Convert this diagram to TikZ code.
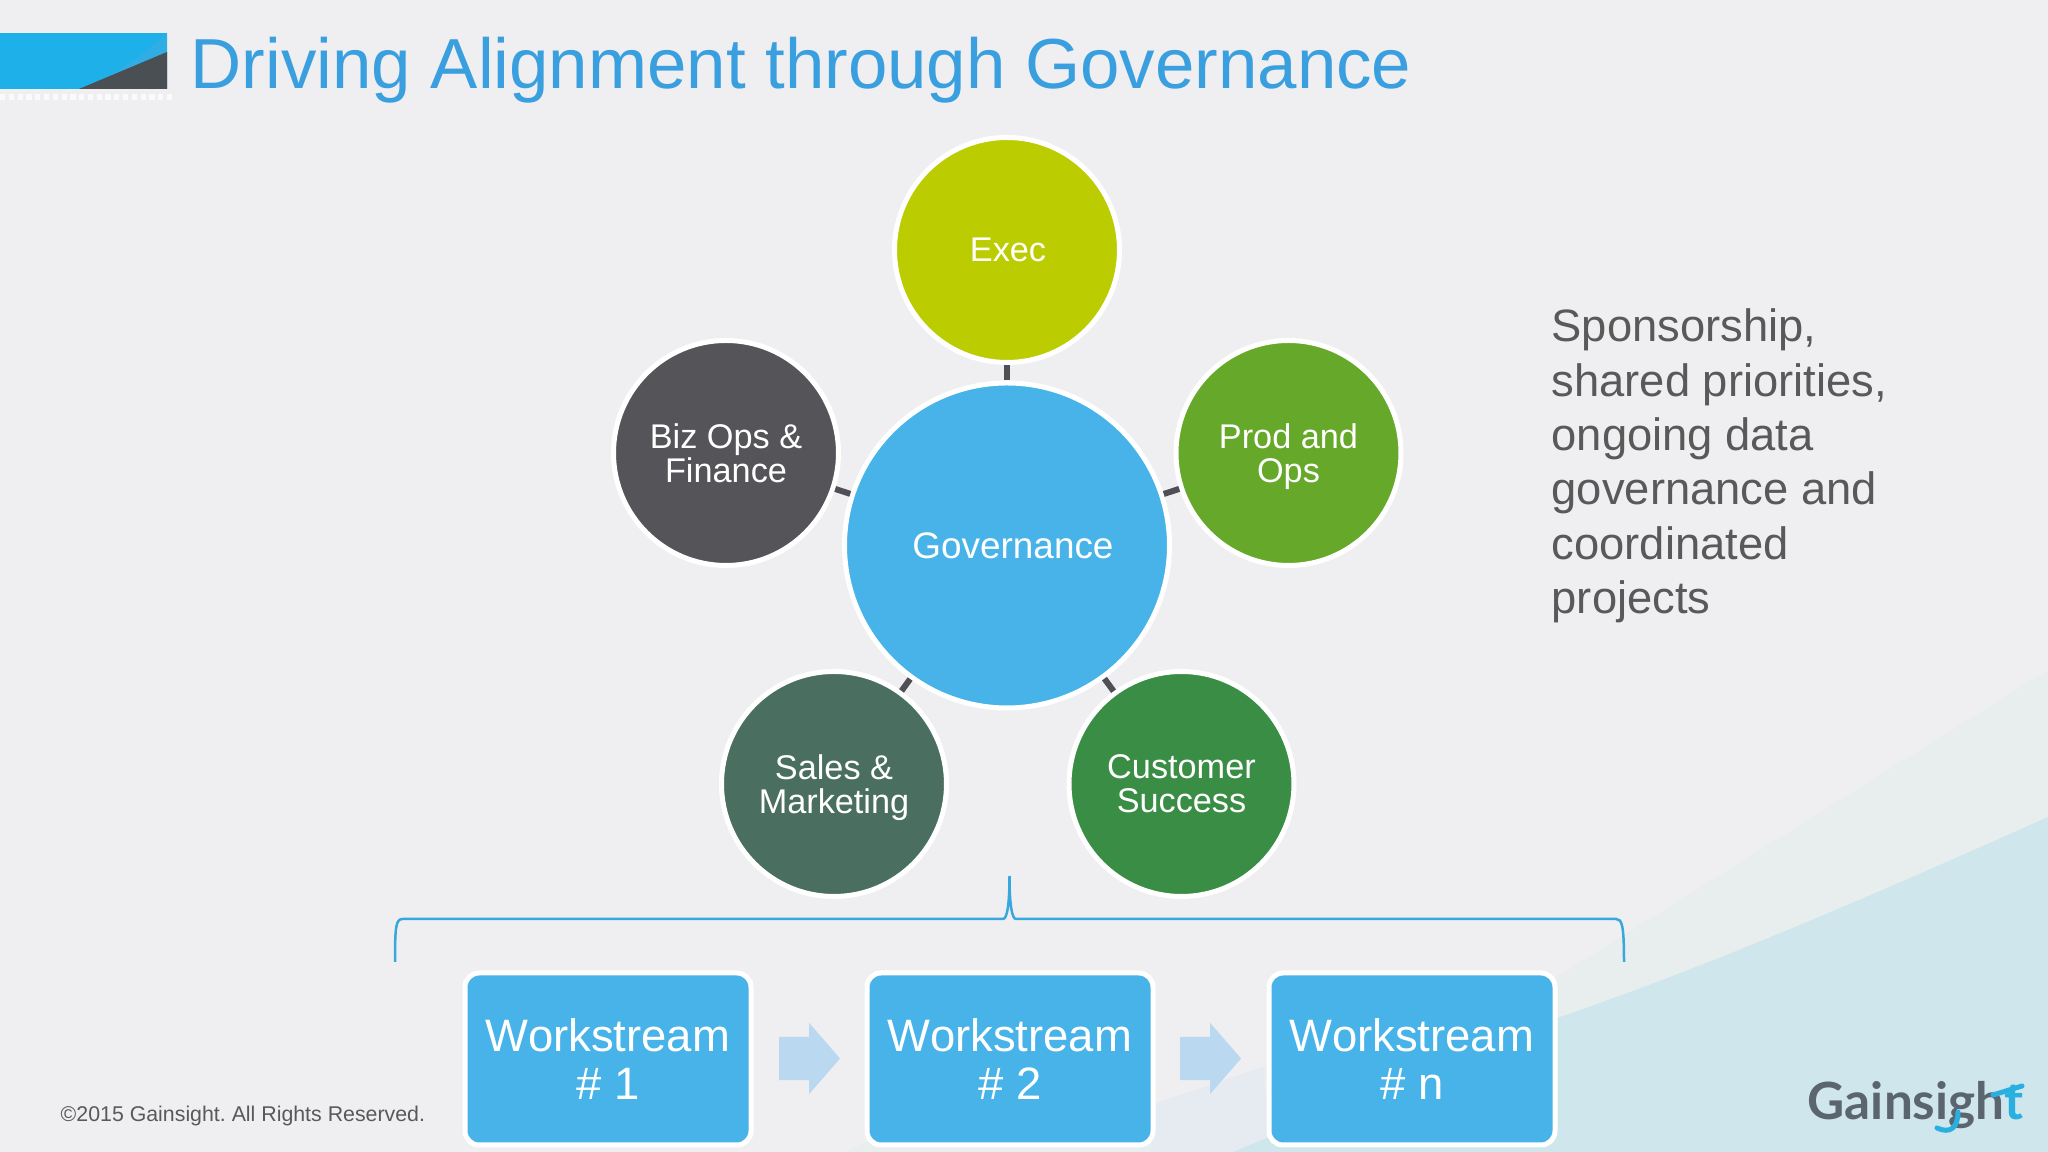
\documentclass[tikz,border=0pt]{standalone}
\usepackage{fontspec}
\setmainfont{Liberation Sans}
\newfontfamily\logofont{Lato}
\usepackage{tikz}
\usetikzlibrary{shapes.arrows}
\definecolor{pagebg}{HTML}{EFEFF1}
\definecolor{wedgegray}{HTML}{E8EEEE}
\definecolor{wedgelav}{HTML}{E6EBF1}
\definecolor{wedgeblue}{HTML}{CFE6EC}
\definecolor{govblue}{HTML}{47B3E8}
\definecolor{titleblue}{HTML}{3A9FDF}
\definecolor{bracketblue}{HTML}{38A8DC}
\definecolor{tabblue}{HTML}{1EB0E8}
\definecolor{tablight}{HTML}{30ADE5}
\definecolor{tabdark}{HTML}{4A4F54}
\definecolor{execgreen}{HTML}{BBCC00}
\definecolor{prodgreen}{HTML}{66A82A}
\definecolor{custgreen}{HTML}{3A8D45}
\definecolor{salesgreen}{HTML}{4A6E60}
\definecolor{bizgray}{HTML}{555459}
\definecolor{tickgray}{HTML}{4F5055}
\definecolor{arrowblue}{HTML}{BAD8F0}
\definecolor{bodygray}{HTML}{595959}
\definecolor{logogray}{HTML}{5A6570}
\definecolor{logocyan}{HTML}{2AB0E0}

\begin{document}
\frenchspacing
\begin{tikzpicture}[node distance=4.02cm,
  main node/.style={circle,draw=white,line width=.05cm,text=white,
    minimum size=2.25cm,inner sep=0pt,align=center,font=\fontsize{9.75}{9.7}\selectfont},
  hub node/.style={main node,minimum size=3.25cm,font=\fontsize{10.5}{12}\selectfont},
  work node/.style={rectangle,rounded corners=.14cm,draw=white,line width=.05cm,fill=govblue,
    text=white,minimum width=2.86cm,minimum height=1.72cm,inner sep=0pt,align=center,
    font=\fontsize{12.93}{13.7}\selectfont},
  flow node/.style={single arrow,fill=arrowblue,inner xsep=0pt,inner ysep=.21cm,minimum height=.61cm,
    single arrow head extend=.14cm,single arrow tip angle=98,anchor=tip},
  tick line/.style={draw=tickgray,line width=.06cm},
  bracket line/.style={draw=bracketblue,line width=.025cm}]

  \useasboundingbox (0,0) rectangle (20.48,11.52);

  % page and corner wedges
  \fill[pagebg] (0,0) rectangle (20.48,11.52);
  \fill[wedgegray] (20.48,4.82) -- (15.57,1.75) -- (12.63,.85) -- (11.57,.49)
    -- (8.63,.09) -- (8.47,0) -- (20.48,0) -- cycle;
  \fill[wedgelav] (12.63,.85) -- (11.57,.49) -- (11.5,0) -- (12.7,0) -- cycle;
  \fill[wedgeblue] (20.48,3.35) .. controls (18.8,2.6) and (17.2,1.9) .. (15.6,1.35)
    -- (12.33,0) -- (20.48,0) -- cycle;

  % title tab
  \fill[tabblue] (0,10.63) rectangle (1.67,11.19);
  \fill[tablight] (1.67,11.19) .. controls (1.3,10.85) and (1.0,10.7) .. (.79,10.63) -- (1.67,10.63) -- cycle;
  \fill[tabdark] (.79,10.63) -- (1.67,11.0) -- (1.67,10.63) -- cycle;
  \draw[white,opacity=.7,line width=.06cm,dash pattern=on 1.5pt off 1pt] (0,10.55) -- (1.72,10.55);

  \node[anchor=base west,text=titleblue,inner sep=0pt,font=\fontsize{20.16}{24}\selectfont] (title)
    at (1.9,10.63) {Driving Alignment through Governance};

  % governance circles
  \node[hub node,fill=govblue] (gov) at (10.07,6.065) {\hspace*{.12cm}Governance};
  \node[main node,fill=execgreen] (exec) at (10.07,9.02) {\hspace*{.02cm}Exec};
  \node[main node,fill=prodgreen] (prod) at (12.885,6.99) {Prod and\\\smash{Ops}};
  \node[main node,fill=custgreen] (cust) at (11.815,3.68) {Customer\\Success};
  \node[main node,fill=salesgreen] (sales) at (8.34,3.68) {Sales \&\\\smash{Marketing}};
  \node[main node,fill=bizgray] (biz) at (7.26,6.99) {Biz Ops \&\\Finance};

  \path[tick line]
    (gov) edge (exec)
          edge (prod)
          edge (cust)
          edge (sales)
          edge (biz);

  % bracket over the workstreams
  \coordinate (brleft) at (3.95,1.90);
  \coordinate (brpeak) at (10.095,2.76);
  \coordinate (brright) at (16.24,1.90);
  \draw[bracket line] (brleft) .. controls (3.95,2.27) and (3.96,2.33) .. (4.03,2.33)
    -- (10.03,2.33) .. controls (10.07,2.33) and (10.095,2.47) .. (brpeak)
    .. controls (10.095,2.47) and (10.12,2.33) .. (10.16,2.33)
    -- (16.16,2.33) .. controls (16.22,2.33) and (16.24,2.27) .. (brright);

  % workstreams
  \node[work node] (ws1) at (6.08,.93) {Workstream\\\# 1};
  \node[work node] (ws2) [right of=ws1] {Workstream\\\# 2};
  \node[work node] (ws3) [right of=ws2] {Workstream\\\# n};
  \node[flow node] (flow1) at (8.41,.935) {};
  \node[flow node] (flow2) at (12.42,.935) {};

  % side text and footer
  \node[anchor=north west,inner sep=0pt,text=bodygray,align=left,font=\fontsize{12.9}{15.5}\selectfont] (note)
    at (15.51,8.44) {Sponsorship,\\shared priorities,\\ongoing data\\governance and\\coordinated\\projects};
  \node[anchor=base west,inner sep=0pt,text=bodygray,font=\fontsize{6.07}{8}\selectfont] (copy)
    at (.6,.3) {©2015 Gainsight. All Rights Reserved.};
  \node[anchor=base west,inner sep=0pt,text=logogray,font=\logofont\bfseries\fontsize{14.6}{16}\selectfont] (logo)
    at (18.07,.32) {Gainsigh\textcolor{logocyan}{t}};
  \draw[logocyan,line width=.05cm,line cap=round] (19.37,.24) .. controls (19.5,.18) and (19.58,.24) .. (19.58,.40);
  \draw[logocyan,line width=.05cm,line cap=round] (19.93,.57) -- (20.22,.66);
\end{tikzpicture}
\end{document}
